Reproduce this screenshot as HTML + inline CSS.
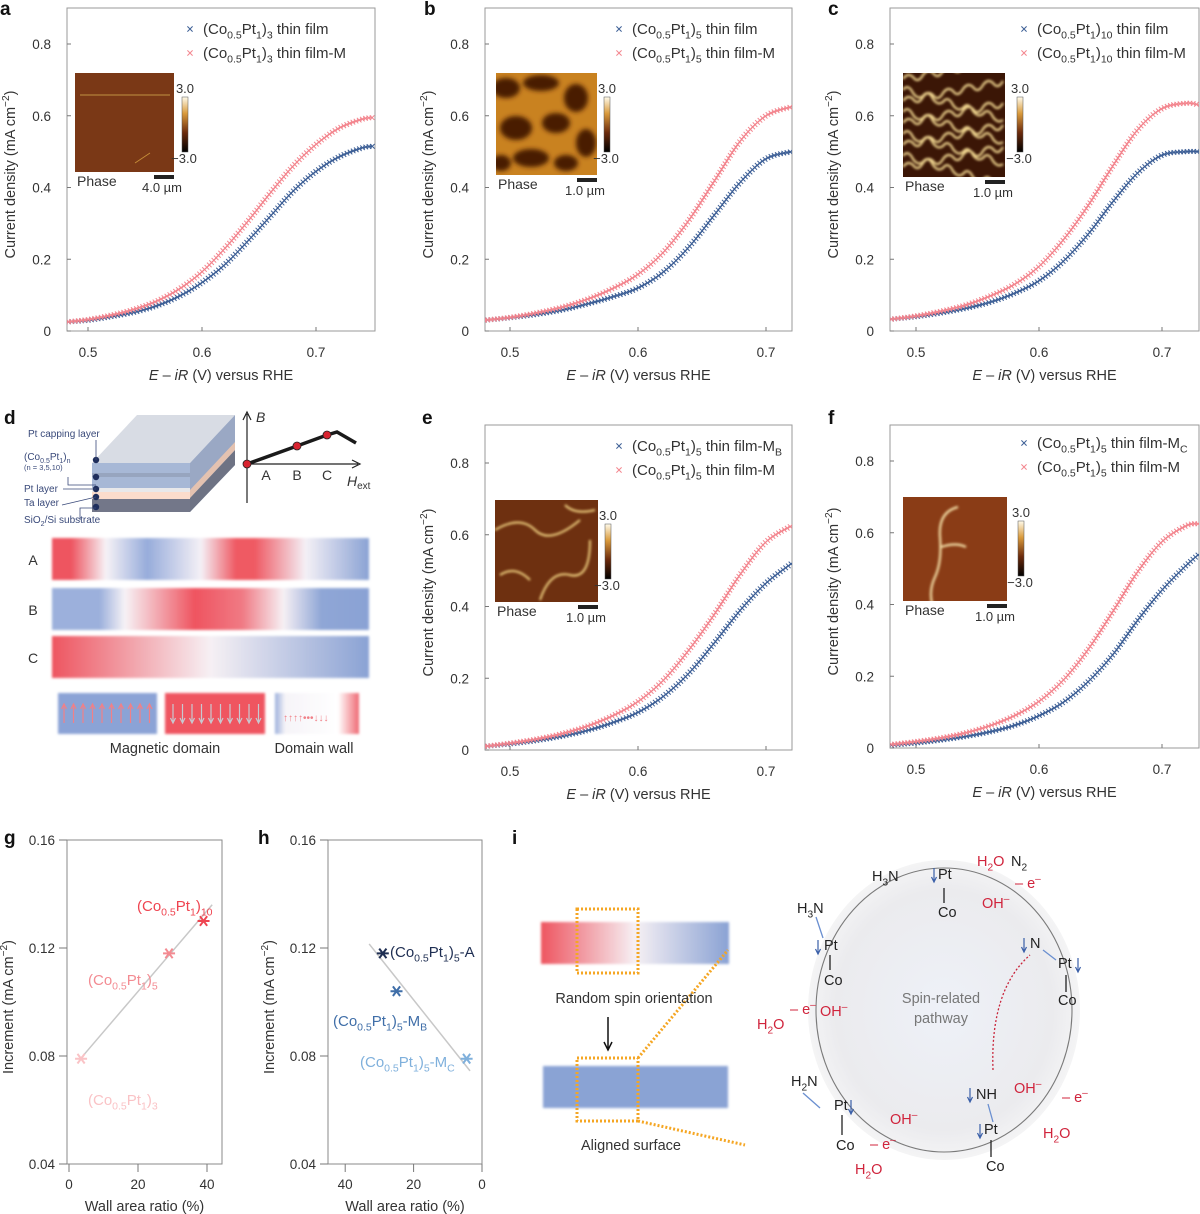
<!DOCTYPE html>
<html><head><meta charset="utf-8"><style>
html,body{margin:0;padding:0;background:#fff;}
svg{display:block;font-family:"Liberation Sans",sans-serif;}
</style></head><body>
<svg id="fig" width="1200" height="1214" viewBox="0 0 1200 1214" xmlns="http://www.w3.org/2000/svg">
<defs>
<linearGradient id="cbar" x1="0" y1="0" x2="0" y2="1"><stop offset="0" stop-color="#fffbea"/><stop offset="0.3" stop-color="#d99a3c"/><stop offset="0.65" stop-color="#6b2a0c"/><stop offset="1" stop-color="#000"/></linearGradient>
<linearGradient id="gA"><stop offset="0" stop-color="#ee5560"/><stop offset="0.06" stop-color="#ee5560"/><stop offset="0.17" stop-color="#f6f2f6"/><stop offset="0.3" stop-color="#97acdb"/><stop offset="0.47" stop-color="#f4f0f6"/><stop offset="0.58" stop-color="#ef5a64"/><stop offset="0.64" stop-color="#ef5a64"/><stop offset="0.8" stop-color="#f4f0f6"/><stop offset="1" stop-color="#8aa2d4"/></linearGradient>
<linearGradient id="gB"><stop offset="0" stop-color="#9cb0dc"/><stop offset="0.15" stop-color="#9cb0dc"/><stop offset="0.23" stop-color="#f6f2f6"/><stop offset="0.45" stop-color="#ef5460"/><stop offset="0.6" stop-color="#f07a84"/><stop offset="0.73" stop-color="#f6f0f4"/><stop offset="0.85" stop-color="#8fa6d6"/><stop offset="1" stop-color="#8aa2d4"/></linearGradient>
<linearGradient id="gC"><stop offset="0" stop-color="#ee5560"/><stop offset="0.5" stop-color="#f6f0f4"/><stop offset="1" stop-color="#8aa2d4"/></linearGradient>
<linearGradient id="gWall"><stop offset="0" stop-color="#9cb0dc"/><stop offset="0.12" stop-color="#f6f4f8"/><stop offset="0.75" stop-color="#fff"/><stop offset="1" stop-color="#ef6a74"/></linearGradient>
<linearGradient id="gRand"><stop offset="0" stop-color="#ee5560"/><stop offset="0.5" stop-color="#f6f0f4"/><stop offset="1" stop-color="#8aa2d4"/></linearGradient>
<radialGradient id="gCirc"><stop offset="0" stop-color="#eef1f8"/><stop offset="0.8" stop-color="#ebebee"/><stop offset="1" stop-color="#f4f4f5"/></radialGradient>
<filter id="blur1"><feGaussianBlur stdDeviation="1.2"/></filter>
<filter id="blur2"><feGaussianBlur stdDeviation="2.5"/></filter>
</defs>
</svg>
<script>
// ---------- data ----------
const xTickLabels = [0.5, 0.6, 0.7];
const yTickLabels = [0, 0.2, 0.4, 0.6, 0.8];
const aPotential = [0.48,0.50,0.52,0.54,0.56,0.58,0.60,0.62,0.64,0.66,0.68,0.70,0.72,0.74,0.75];
const aFilm  = [0.025,0.03,0.04,0.052,0.07,0.097,0.135,0.185,0.25,0.32,0.39,0.445,0.485,0.51,0.515];
const aFilmM = [0.025,0.032,0.044,0.06,0.083,0.117,0.165,0.23,0.305,0.385,0.46,0.52,0.565,0.59,0.595];
const bPotential = [0.48,0.50,0.52,0.54,0.56,0.58,0.60,0.62,0.64,0.66,0.68,0.70,0.72];
const bFilm  = [0.03,0.037,0.046,0.058,0.075,0.095,0.12,0.165,0.235,0.325,0.415,0.48,0.5];
const bFilmM = [0.03,0.038,0.05,0.066,0.088,0.118,0.158,0.22,0.31,0.42,0.53,0.6,0.625];
const cPotential = [0.48,0.50,0.52,0.54,0.56,0.58,0.60,0.62,0.64,0.66,0.68,0.70,0.72,0.73];
const cFilm  = [0.033,0.04,0.05,0.063,0.08,0.105,0.14,0.195,0.27,0.36,0.44,0.49,0.5,0.5];
const cFilmM = [0.033,0.042,0.055,0.072,0.097,0.13,0.18,0.255,0.35,0.46,0.56,0.62,0.635,0.63];
const ePotential = [0.48,0.50,0.52,0.54,0.56,0.58,0.60,0.62,0.64,0.66,0.68,0.70,0.72];
const eFilmMB = [0.01,0.017,0.026,0.038,0.054,0.076,0.105,0.15,0.215,0.3,0.39,0.465,0.52];
const eFilmM  = [0.01,0.019,0.03,0.045,0.066,0.095,0.135,0.195,0.28,0.38,0.49,0.58,0.625];
const fPotential = [0.48,0.50,0.52,0.54,0.56,0.58,0.60,0.62,0.64,0.66,0.68,0.70,0.72,0.73];
const fFilmMC = [0.008,0.014,0.022,0.032,0.045,0.063,0.09,0.128,0.185,0.26,0.355,0.44,0.51,0.54];
const fFilmM  = [0.01,0.018,0.028,0.042,0.062,0.09,0.13,0.19,0.275,0.38,0.49,0.575,0.62,0.625];
const incTickLabels = [0.04, 0.08, 0.12, 0.16];
const wallTickLabels = [0, 20, 40];
const gWall = [3.5, 29, 39];
const gIncrement = [0.079, 0.118, 0.130];
const gNames = ["(Co_{0.5}Pt_{1})_{3}", "(Co_{0.5}Pt_{1})_{5}", "(Co_{0.5}Pt_{1})_{10}"];
const gFitWall = [3, 41.5];
const gFitInc = [0.0785, 0.136];
const hWall = [29, 25, 4.5];
const hIncrement = [0.118, 0.104, 0.079];
const hNames = ["(Co_{0.5}Pt_{1})_{5}-A", "(Co_{0.5}Pt_{1})_{5}-M_{B}", "(Co_{0.5}Pt_{1})_{5}-M_{C}"];
const hFitWall = [33, 3.5];
const hFitInc = [0.1215, 0.0745];

const NS = "http://www.w3.org/2000/svg";
const svg = document.getElementById('fig');
const BLUE = "#3d5f96", RED = "#f3858e";

function E(tag, attrs, parent) {
  const el = document.createElementNS(NS, tag);
  for (const k in attrs) el.setAttribute(k, attrs[k]);
  (parent || svg).appendChild(el);
  return el;
}
function T(x, y, str, opts, name) {
  opts = opts || {};
  const el = E('text', {x: x, y: y, 'font-size': opts.size || 14, fill: opts.fill || '#333', 'text-anchor': opts.anchor || 'start'}, opts.parent);
  
  
  if (opts.weight) el.setAttribute('font-weight', opts.weight);
  if (opts.style) el.setAttribute('font-style', opts.style);
  if (opts.transform) el.setAttribute('transform', opts.transform);
  const fs = opts.size || 14;
  const re = /(_|\^)\{([^}]*)\}/g;
  let last = 0, m, shift = 0;
  const add = (s, d, small) => {
    if (!s) return;
    const t = document.createElementNS(NS, 'tspan');
    t.textContent = s;
    if (small) t.setAttribute('font-size', fs * 0.7);
    if (d !== 0) t.setAttribute('dy', d);
    el.appendChild(t);
  };
  while ((m = re.exec(str))) {
    add(str.slice(last, m.index), -shift, false); if (str.slice(last, m.index)) shift = 0;
    const d = m[1] === '_' ? fs * 0.3 : -fs * 0.4;
    add(m[2], d - shift, true); shift = d;
    last = re.lastIndex;
  }
  const rest = str.slice(last);
  if (rest) add(rest, -shift, false);
  return el;
}
function cr(pts) {
  let d = 'M' + pts[0][0] + ',' + pts[0][1];
  for (let i = 0; i < pts.length - 1; i++) {
    const p0 = pts[i - 1] || pts[i], p1 = pts[i], p2 = pts[i + 1], p3 = pts[i + 2] || p2;
    d += ' C' + (p1[0] + (p2[0] - p0[0]) / 6) + ',' + (p1[1] + (p2[1] - p0[1]) / 6) + ' ' + (p2[0] - (p3[0] - p1[0]) / 6) + ',' + (p2[1] - (p3[1] - p1[1]) / 6) + ' ' + p2[0] + ',' + p2[1];
  }
  return d;
}
function cross(g, x, y, s, col) {
  E('path', {d: `M${x-s},${y-s}L${x+s},${y+s}M${x-s},${y+s}L${x+s},${y-s}`, stroke: col, 'stroke-width': 1}, g);
}

let clipN = 0;
function lsvPanel(cfg, V, s1, s2, leg1, leg2, name) {
  const g = E('g', {});
  
  
  const X = v => cfg.x0 + (v - 0.5) * cfg.xs;
  const Y = v => cfg.y0 - v * cfg.ys;
  const fr = E('rect', {x: cfg.L, y: cfg.T, width: cfg.R - cfg.L, height: cfg.y0 - cfg.T, fill: 'none', stroke: '#9a9a9a', 'stroke-width': 1}, g);
  
  
  xTickLabels.forEach(v => {
    E('line', {x1: X(v), x2: X(v), y1: cfg.y0, y2: cfg.y0 - 4, stroke: '#777'}, g);
    T(X(v), cfg.y0 + 26, v.toFixed(1), {size: 13.5, anchor: 'middle', fill: '#333', parent: g}, 'x-tick-label');
  });
  yTickLabels.forEach(v => {
    E('line', {x1: cfg.L, x2: cfg.L + 4, y1: Y(v), y2: Y(v), stroke: '#777'}, g);
    T(cfg.L - 16, Y(v) + 5, v === 0 ? '0' : v.toFixed(1), {size: 13.5, anchor: 'end', parent: g}, 'y-tick-label');
  });
  const xt = T((cfg.L + cfg.R) / 2, cfg.y0 + 49, '', {size: 14.5, anchor: 'middle', parent: g}, 'x-axis-title');
  xt.innerHTML = '<tspan font-style="italic">E</tspan> – <tspan font-style="italic">iR</tspan> (V) versus RHE';
  T(0, 0, 'Current density (mA cm^{−2})', {size: 14.5, anchor: 'middle', parent: g, transform: `translate(${cfg.L - 52},${(cfg.T + cfg.y0) / 2 + 5}) rotate(-90)`}, 'y-axis-title');
  const cid = 'clip' + (clipN++);
  const cp = E('clipPath', {id: cid}, g);
  E('rect', {x: cfg.L, y: cfg.T, width: cfg.R - cfg.L, height: cfg.y0 - cfg.T + 3}, cp);
  const cg = E('g', {'clip-path': `url(#${cid})`}, g);
  [[s1, BLUE, 'series-thin-film'], [s2, RED, 'series-thin-film-m']].forEach(([s, col, nm]) => {
    const pts = V.map((v, i) => [X(v), Y(s[i])]);
    const p = E('path', {d: cr(pts), fill: 'none', stroke: col, 'stroke-width': 1.2}, cg);
    
    
    const L = p.getTotalLength();
    for (let l = 0; l <= L; l += 3.3) {
      const q = p.getPointAtLength(l);
      cross(cg, q.x, q.y, 2.3, col);
    }
  });
  cross(g, cfg.lx, cfg.ly - 4, 2.6, BLUE);
  T(cfg.lx + 13, cfg.ly + 1, leg1, {size: 15, parent: g}, 'legend-entry-film');
  cross(g, cfg.lx, cfg.ly + 20, 2.6, RED);
  T(cfg.lx + 13, cfg.ly + 25, leg2, {size: 15, parent: g}, 'legend-entry-film-m');
  return g;
}

lsvPanel({L: 67, R: 375, T: 8, x0: 88, xs: 1140, y0: 331, ys: 358.75, lx: 190, ly: 33}, aPotential, aFilm, aFilmM, '(Co_{0.5}Pt_{1})_{3} thin film', '(Co_{0.5}Pt_{1})_{3} thin film-M', 'panel-a-chart');
lsvPanel({L: 485, R: 792, T: 8, x0: 510, xs: 1280, y0: 331, ys: 358.75, lx: 619, ly: 33}, bPotential, bFilm, bFilmM, '(Co_{0.5}Pt_{1})_{5} thin film', '(Co_{0.5}Pt_{1})_{5} thin film-M', 'panel-b-chart');
lsvPanel({L: 890, R: 1199, T: 8, x0: 916, xs: 1230, y0: 331, ys: 358.75, lx: 1024, ly: 33}, cPotential, cFilm, cFilmM, '(Co_{0.5}Pt_{1})_{10} thin film', '(Co_{0.5}Pt_{1})_{10} thin film-M', 'panel-c-chart');
lsvPanel({L: 485, R: 792, T: 425, x0: 510, xs: 1280, y0: 750, ys: 358.75, lx: 619, ly: 450}, ePotential, eFilmMB, eFilmM, '(Co_{0.5}Pt_{1})_{5} thin film-M_{B}', '(Co_{0.5}Pt_{1})_{5} thin film-M', 'panel-e-chart');
lsvPanel({L: 890, R: 1199, T: 425, x0: 916, xs: 1230, y0: 748, ys: 358.75, lx: 1024, ly: 447}, fPotential, fFilmMC, fFilmM, '(Co_{0.5}Pt_{1})_{5} thin film-M_{C}', '(Co_{0.5}Pt_{1})_{5} thin film-M', 'panel-f-chart');

// AFM insets
function inset(x, y, w, h, base, decor, cbx, scale, name) {
  const g = E('g', {});
  
  
  E('rect', {x: x, y: y, width: w, height: h, fill: base}, g);
  const cid = 'ic' + (clipN++);
  const cp = E('clipPath', {id: cid}, g);
  E('rect', {x: x, y: y, width: w, height: h}, cp);
  const dg = E('g', {'clip-path': `url(#${cid})`}, g);
  decor(dg, x, y, w, h);
  E('rect', {x: cbx, y: y + 24, width: 6, height: 55, fill: 'url(#cbar)', stroke: '#555', 'stroke-width': 0.5}, g);
  T(cbx + 3, y + 20, '3.0', {size: 13, anchor: 'middle', parent: g}, 'colorbar-max');
  T(cbx + 2, y + 90, '−3.0', {size: 13, anchor: 'middle', parent: g}, 'colorbar-min');
  T(x + 2, y + h + 14, 'Phase', {size: 14, parent: g}, 'phase-label');
  E('rect', {x: x + w - 20, y: y + h + 3, width: 20, height: 4, fill: '#222'}, g);
  T(x + w - 12, y + h + 20, scale, {size: 13, anchor: 'middle', parent: g}, 'scale-bar-label');
}
inset(75, 73, 99, 99, '#7a3816', (g, x, y) => {
  E('line', {x1: x + 5, y1: y + 22, x2: x + 95, y2: y + 22, stroke: '#d8b050', 'stroke-width': 0.8}, g);
  E('line', {x1: x + 60, y1: y + 90, x2: x + 75, y2: y + 80, stroke: '#c8903a', 'stroke-width': 0.8}, g);
}, 182, '4.0 µm', 'inset-afm-a');
inset(496, 73, 101, 102, '#c98220', (g, x, y) => {
  const b = E('g', {filter: 'url(#blur2)', fill: '#4a1c06'}, g);
  [[10,15,14,10],[45,10,18,8],[80,25,12,14],[20,55,16,12],[60,50,14,10],[90,70,10,14],[35,85,18,9],[5,90,10,8],[70,90,12,8]].forEach(c => E('ellipse', {cx: x + c[0], cy: y + c[1], rx: c[2], ry: c[3]}, b));
}, 604, '1.0 µm', 'inset-afm-b');
inset(903, 73, 102, 104, '#3b1606', (g, x, y) => {
  const p = E('g', {fill: 'none', stroke: '#f2d790', 'stroke-width': 2.2, filter: 'url(#blur1)'}, g);
  for (let r = 0; r < 9; r++) {
    let d = `M${x} ${y + 6 + r * 11}`;
    for (let k = 0; k < 10; k++) d += ` q5 ${(k % 2 ? 7 : -7)} 10 ${(r % 2 ? 3 : -2)}`;
    E('path', {d: d}, p);
  }
}, 1017, '1.0 µm', 'inset-afm-c');
inset(495, 500, 103, 102, '#6e3010', (g, x, y) => {
  const p = E('g', {fill: 'none', stroke: '#f0d080', 'stroke-width': 2, filter: 'url(#blur1)'}, g);
  E('path', {d: `M${x} ${y+30} q25 -15 40 0 t45 -10 M${x+45} ${y+100} q10 -30 30 -25 t20 -35 M${x+5} ${y+75} q15 -10 30 5 M${x+70} ${y+5} q10 10 30 5`}, p);
}, 605, '1.0 µm', 'inset-afm-e');
inset(903, 497, 104, 104, '#8a3c16', (g, x, y) => {
  E('path', {d: `M${x+55} ${y+10} q-20 5 -18 30 t-5 40 t-2 30 M${x+38} ${y+50} q15 -5 25 0`, fill: 'none', stroke: '#f4e0a8', 'stroke-width': 2.2, filter: 'url(#blur1)'}, g);
}, 1018, '1.0 µm', 'inset-afm-f');

// scatter panels g, h
function scatterPanel(cfg, W, I, names, colors, fitW, fitI, labelPos, name) {
  const g = E('g', {});
  
  
  const X = w => cfg.x0 + w * cfg.xs;
  const Y = v => cfg.y0 - (v - 0.04) * cfg.ys;
  E('rect', {x: cfg.L, y: cfg.T, width: cfg.R - cfg.L, height: cfg.y0 - cfg.T, fill: 'none', stroke: '#8a8a8a'}, g);
  incTickLabels.forEach(v => {
    E('line', {x1: cfg.L - 8, x2: cfg.L, y1: Y(v), y2: Y(v), stroke: '#777'}, g);
    T(cfg.L - 12, Y(v) + 5, v.toFixed(2), {size: 13.5, anchor: 'end', parent: g}, 'y-tick-label');
  });
  wallTickLabels.forEach(w => {
    E('line', {x1: X(w), x2: X(w), y1: cfg.y0, y2: cfg.y0 + 8, stroke: '#777'}, g);
    T(X(w), cfg.y0 + 25, String(w), {size: 13.5, anchor: 'middle', parent: g}, 'x-tick-label');
  });
  T((cfg.L + cfg.R) / 2, cfg.y0 + 47, 'Wall area ratio (%)', {size: 14.5, anchor: 'middle', parent: g}, 'x-axis-title');
  T(0, 0, 'Increment (mA cm^{−2})', {size: 14.5, anchor: 'middle', parent: g, transform: `translate(${cfg.L - 54},${(cfg.T + cfg.y0) / 2 + 5}) rotate(-90)`}, 'y-axis-title');
  const fl = E('line', {x1: X(fitW[0]), y1: Y(fitI[0]), x2: X(fitW[1]), y2: Y(fitI[1]), stroke: '#c8c8c8', 'stroke-width': 1.5}, g);
  
  
  W.forEach((w, i) => {
    const x = X(w), y = Y(I[i]), s = 6;
    const pt = E('path', {d: `M${x-s},${y}L${x+s},${y}M${x-s*0.6},${y-s*0.8}L${x+s*0.6},${y+s*0.8}M${x-s*0.6},${y+s*0.8}L${x+s*0.6},${y-s*0.8}`, stroke: colors[i], 'stroke-width': 2}, g);
    
    
    T(labelPos[i][0], labelPos[i][1], names[i], {size: 15, fill: colors[i], parent: g}, 'point-label');
  });
}
scatterPanel({L: 67, R: 222, T: 840, x0: 69, xs: 3.45, y0: 1164, ys: 2700}, gWall, gIncrement, gNames, ['#fac3c6', '#f38b92', '#ef4450'], gFitWall, gFitInc, [[88, 1105], [88, 985], [137, 911]], 'panel-g-chart');
scatterPanel({L: 328, R: 482, T: 840, x0: 482, xs: -3.42, y0: 1164, ys: 2700}, hWall, hIncrement, hNames, ['#1e2e52', '#3f6ea8', '#7fb0dc'], hFitWall, hFitInc, [[390, 957], [333, 1026], [360, 1067]], 'panel-h-chart');

// panel letters
[['a',0,15],['b',424,15],['c',828,15],['d',4,424],['e',422,424],['f',828,424],['g',4,844],['h',258,844],['i',512,844]].forEach(p => T(p[1], p[2], p[0], {size: 19, weight: 'bold', fill: '#111'}, 'panel-letter-' + p[0]));

// ---------- panel d ----------
(function () {
  const g = E('g', {});
  
  
  E('polygon', {points: '92,463 190,463 235,415 137,415', fill: '#d8dce4'}, g);
  E('polygon', {points: '190,463 235,415 235,465 190,512', fill: '#9aa8c4'}, g);
  E('polygon', {points: '190,498 235,450 235,465 190,512', fill: '#6e7384'}, g);
  E('polygon', {points: '190,490 235,442 235,450 190,498', fill: '#e4c2b0'}, g);
  E('rect', {x: 92, y: 463, width: 98, height: 25, fill: '#a7b8d6'}, g);
  E('rect', {x: 92, y: 473, width: 98, height: 4, fill: '#97a5bf'}, g);
  E('rect', {x: 92, y: 488, width: 98, height: 4, fill: '#e8e8ea'}, g);
  E('rect', {x: 92, y: 492, width: 98, height: 7, fill: '#fbdccc'}, g);
  E('rect', {x: 92, y: 499, width: 98, height: 13, fill: '#737789'}, g);
  [460, 477, 489, 497, 507].forEach(y => E('circle', {cx: 96, cy: y, r: 3.2, fill: '#1f2e5c'}, g));
  E('path', {d: 'M96,460 L96,440 M68,477 L68,485 L96,485 M63,489 L96,489 M62,505 L96,497 M80,520 L80,508 L96,508', stroke: '#3a4a7a', fill: 'none', 'stroke-width': 0.8}, g);
  const c = '#3a4a7a';
  T(28, 437, 'Pt capping layer', {size: 10, fill: c, parent: g}, 'pt-capping-label');
  T(24, 460, '(Co_{0.5}Pt_{1})_{n}', {size: 10, fill: c, parent: g}, 'copt-layer-label');
  T(24, 470, '(n = 3,5,10)', {size: 7.5, fill: c, parent: g}, 'n-values-label');
  T(24, 492, 'Pt layer', {size: 10, fill: c, parent: g}, 'pt-layer-label');
  T(24, 506, 'Ta layer', {size: 10, fill: c, parent: g}, 'ta-layer-label');
  T(24, 523, 'SiO_{2}/Si substrate', {size: 10, fill: c, parent: g}, 'substrate-label');
  E('path', {d: 'M247,503 L247,414 M243,420 L247,412 L251,420 M247,464 L358,464 M352,460 L360,464 L352,468', stroke: '#222', fill: 'none', 'stroke-width': 1.2}, g);
  E('polyline', {points: '247,464 297,446 327,435 337,432 356,443', stroke: '#1a1a1a', fill: 'none', 'stroke-width': 3.5}, g);
  [[247, 464], [297, 446], [327, 435]].forEach(p => E('circle', {cx: p[0], cy: p[1], r: 4, fill: '#d8232f', stroke: '#222', 'stroke-width': 0.8}, g));
  T(256, 422, 'B', {size: 14, style: 'italic', parent: g}, 'b-axis-label');
  T(266, 480, 'A', {size: 14, anchor: 'middle', parent: g}, 'state-a');
  T(297, 480, 'B', {size: 14, anchor: 'middle', parent: g}, 'state-b');
  T(327, 480, 'C', {size: 14, anchor: 'middle', parent: g}, 'state-c');
  const h = T(347, 486, '', {size: 14, parent: g}, 'hext-label');
  h.innerHTML = '<tspan font-style="italic">H</tspan><tspan font-size="10" dy="3">ext</tspan>';
  const bars = [['A', 538, 'url(#gA)'], ['B', 588, 'url(#gB)'], ['C', 636, 'url(#gC)']];
  bars.forEach(b => {
    const r = E('rect', {x: 52, y: b[1], width: 317, height: 42, fill: b[2], filter: 'url(#blur1)'}, g);
    
    
    T(33, b[1] + 27, b[0], {size: 14, anchor: 'middle', parent: g}, 'bar-label');
  });
  E('rect', {x: 58, y: 693, width: 99, height: 41, fill: '#8ba3d6', filter: 'url(#blur1)'}, g);
  E('rect', {x: 165, y: 693, width: 100, height: 41, fill: '#ef5560', filter: 'url(#blur1)'}, g);
  E('rect', {x: 275, y: 693, width: 84, height: 41, fill: 'url(#gWall)', filter: 'url(#blur1)'}, g);
  for (let i = 0; i < 10; i++) {
    const x = 64 + i * 9.5;
    E('path', {d: `M${x},${723} L${x},${705} M${x-2.5},${709} L${x},${704} L${x+2.5},${709}`, stroke: '#f08088', 'stroke-width': 1.2, fill: 'none'}, g);
    const x2 = 173 + i * 9.5;
    E('path', {d: `M${x2},${704} L${x2},${722} M${x2-2.5},${718} L${x2},${723} L${x2+2.5},${718}`, stroke: '#c8c8d0', 'stroke-width': 1.2, fill: 'none'}, g);
  }
  T(283, 721, '↑↑↑↑•••↓↓↓', {size: 10, fill: '#f08088', parent: g}, 'domain-wall-arrows');
  T(165, 753, 'Magnetic domain', {size: 14.5, anchor: 'middle', parent: g}, 'magnetic-domain-label');
  T(314, 753, 'Domain wall', {size: 14.5, anchor: 'middle', parent: g}, 'domain-wall-label');
})();

// ---------- panel i ----------
(function () {
  const g = E('g', {});
  
  
  E('rect', {x: 541, y: 922, width: 188, height: 42, fill: 'url(#gRand)', filter: 'url(#blur1)'}, g);
  E('rect', {x: 543, y: 1066, width: 185, height: 42, fill: '#8aa3d4', filter: 'url(#blur1)'}, g);
  const dot = {fill: 'none', stroke: '#f5a623', 'stroke-width': 3, 'stroke-dasharray': '2 2'};
  E('rect', Object.assign({x: 577, y: 909, width: 61, height: 64}, dot), g);
  E('rect', Object.assign({x: 577, y: 1058, width: 61, height: 63}, dot), g);
  E('line', Object.assign({x1: 638, y1: 1058, x2: 728, y2: 950}, dot), g);
  E('line', Object.assign({x1: 638, y1: 1121, x2: 745, y2: 1145}, dot), g);
  T(634, 1003, 'Random spin orientation', {size: 14.5, anchor: 'middle', parent: g}, 'random-spin-label');
  T(631, 1150, 'Aligned surface', {size: 14.5, anchor: 'middle', parent: g}, 'aligned-surface-label');
  E('path', {d: 'M608,1017 L608,1048 M604,1042 L608,1050 L612,1042', stroke: '#111', 'stroke-width': 1.5, fill: 'none'}, g);
  const circ = E('ellipse', {cx: 944, cy: 1010, rx: 136, ry: 150, fill: 'url(#gCirc)'}, g);
  
  
  const ring = E('ellipse', {cx: 944, cy: 1010, rx: 128, ry: 142, fill: 'none', stroke: '#7a7a7a', 'stroke-width': 1.1}, g);
  
  
  T(941, 1003, 'Spin-related', {size: 14.5, anchor: 'middle', fill: '#777', parent: g}, 'spin-related-label');
  T(941, 1023, 'pathway', {size: 14.5, anchor: 'middle', fill: '#777', parent: g}, 'pathway-label');
  const K = '#222', R = '#d0243c', B = '#3a5fa8';
  const lab = [
    [872, 881, 'H_{3}N', K], [938, 879, 'Pt', K], [938, 917, 'Co', K], [977, 866, 'H_{2}O', R], [1011, 866, 'N_{2}', K],
    [1015, 888, '– e^{–}', R], [982, 908, 'OH^{–}', R], [797, 913, 'H_{3}N', K], [824, 950, 'Pt', K], [824, 985, 'Co', K],
    [1030, 948, 'N', K], [1058, 968, 'Pt', K], [1058, 1005, 'Co', K], [790, 1014, '– e^{–}', R], [820, 1016, 'OH^{–}', R],
    [757, 1029, 'H_{2}O', R], [791, 1086, 'H_{2}N', K], [834, 1110, 'Pt', K], [836, 1150, 'Co', K], [890, 1124, 'OH^{–}', R],
    [870, 1149, '– e^{–}', R], [855, 1174, 'H_{2}O', R], [976, 1099, 'NH', K], [984, 1134, 'Pt', K], [986, 1171, 'Co', K],
    [1014, 1093, 'OH^{–}', R], [1062, 1102, '– e^{–}', R], [1043, 1138, 'H_{2}O', R]
  ];
  lab.forEach(l => T(l[0], l[1], l[2], {size: 14.5, fill: l[3], parent: g}, 'species-label'));
  [[934, 880], [818, 952], [1024, 950], [1078, 970], [851, 1112], [970, 1100], [980, 1136]].forEach(p => E('path', {d: `M${p[0]},${p[1]-12} L${p[0]},${p[1]+2} M${p[0]-2.5},${p[1]-3} L${p[0]},${p[1]+2} L${p[0]+2.5},${p[1]-3}`, stroke: B, fill: 'none', 'stroke-width': 1.2}, g));
  [[944, 888, 944, 903], [830, 955, 830, 970], [1066, 975, 1066, 992], [842, 1115, 842, 1135], [991, 1140, 991, 1157]].forEach(p => E('line', {x1: p[0], y1: p[1], x2: p[2], y2: p[3], stroke: '#222', 'stroke-width': 1.3}, g));
  [[816, 917, 823, 938], [1043, 950, 1056, 960], [803, 1093, 820, 1108], [988, 1104, 993, 1122]].forEach(p => E('line', {x1: p[0], y1: p[1], x2: p[2], y2: p[3], stroke: '#6a8fd0', 'stroke-width': 1.3}, g));
  E('path', {d: 'M993,1070 Q990,990 1030,955', stroke: '#c8243a', 'stroke-width': 1.3, 'stroke-dasharray': '2 2', fill: 'none'}, g);
})();
</script>
</body></html>
